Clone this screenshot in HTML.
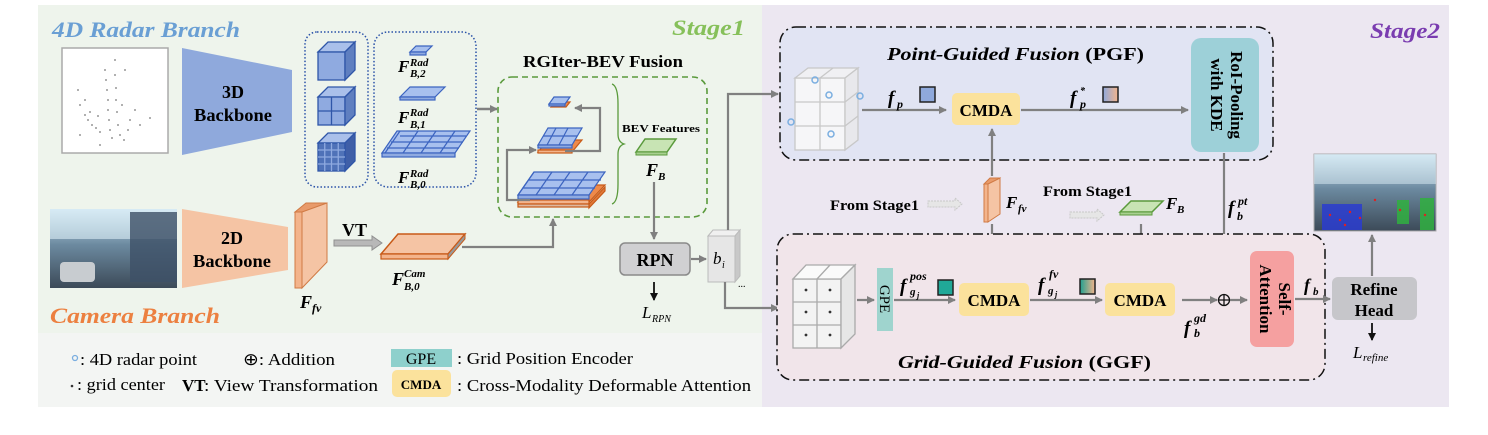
<!DOCTYPE html>
<html><head><meta charset="utf-8"><style>
body{margin:0;background:#fff}
svg{display:block}
text{font-family:"Liberation Serif",serif}
.b{font-weight:bold}
.i{font-style:italic}
</style></head><body>
<svg width="1488" height="435" viewBox="0 0 1488 435" xmlns="http://www.w3.org/2000/svg">
<defs>
<marker id="ar" markerWidth="8" markerHeight="8" refX="7" refY="4" orient="auto" markerUnits="userSpaceOnUse"><path d="M0,0 L8,4 L0,8 z" fill="#808080"/></marker>
<marker id="ak" markerWidth="8" markerHeight="8" refX="7" refY="4" orient="auto" markerUnits="userSpaceOnUse"><path d="M0,0 L8,4 L0,8 z" fill="#111"/></marker>
<linearGradient id="g1" x1="0" x2="1"><stop offset="0" stop-color="#8fa9dc"/><stop offset="1" stop-color="#f3b48c"/></linearGradient>
<linearGradient id="g2" x1="0" x2="1"><stop offset="0" stop-color="#20a090"/><stop offset="1" stop-color="#f3b48c"/></linearGradient>
<linearGradient id="cam" x1="0" y1="0" x2="0" y2="1"><stop offset="0" stop-color="#cfe6f2"/><stop offset="0.45" stop-color="#6c8aa0"/><stop offset="1" stop-color="#3c4a58"/></linearGradient>
</defs>
<rect x="38" y="5" width="724" height="328" fill="#eef4ec"/>
<rect x="38" y="333" width="724" height="74" fill="#f3f5f3"/>
<rect x="762" y="5" width="687" height="402" fill="#ece7f1"/>

<text x="52" y="37" class="b i" font-size="22" fill="#6a9fd4" textLength="188" lengthAdjust="spacingAndGlyphs">4D Radar Branch</text>
<text x="672" y="35" class="b i" font-size="22" fill="#86c05a" textLength="73" lengthAdjust="spacingAndGlyphs">Stage1</text>
<text x="1370" y="38" class="b i" font-size="22" fill="#7a3cb0" textLength="70" lengthAdjust="spacingAndGlyphs">Stage2</text>

<rect x="62" y="48" width="106" height="105" fill="#fff" stroke="#aaa" stroke-width="1.5"/>
<g fill="#777">
<circle cx="78" cy="90" r="0.9"/><circle cx="80" cy="105" r="0.9"/><circle cx="85" cy="115" r="0.9"/><circle cx="88" cy="120" r="0.9"/><circle cx="92" cy="125" r="0.9"/><circle cx="96" cy="128" r="0.9"/><circle cx="100" cy="132" r="0.9"/><circle cx="105" cy="70" r="0.9"/><circle cx="106" cy="80" r="0.9"/><circle cx="107" cy="90" r="0.9"/><circle cx="108" cy="100" r="0.9"/><circle cx="108" cy="110" r="0.9"/><circle cx="109" cy="120" r="0.9"/><circle cx="110" cy="130" r="0.9"/><circle cx="112" cy="138" r="0.9"/><circle cx="115" cy="60" r="0.9"/><circle cx="115" cy="75" r="0.9"/><circle cx="116" cy="88" r="0.9"/><circle cx="116" cy="100" r="0.9"/><circle cx="117" cy="112" r="0.9"/><circle cx="118" cy="125" r="0.9"/><circle cx="120" cy="135" r="0.9"/><circle cx="124" cy="140" r="0.9"/><circle cx="128" cy="130" r="0.9"/><circle cx="130" cy="120" r="0.9"/><circle cx="135" cy="110" r="0.9"/><circle cx="140" cy="125" r="0.9"/><circle cx="150" cy="118" r="0.9"/><circle cx="98" cy="116" r="0.9"/><circle cx="90" cy="112" r="0.9"/><circle cx="125" cy="70" r="0.9"/><circle cx="100" cy="145" r="0.9"/><circle cx="80" cy="135" r="0.9"/><circle cx="122" cy="105" r="0.9"/><circle cx="85" cy="100" r="0.9"/>
</g>
<polygon points="182,48 292,70 292,132 182,155" fill="#8fa9dc"/>
<text x="233" y="98" class="b" font-size="18" text-anchor="middle">3D</text>
<text x="233" y="121" class="b" font-size="18" text-anchor="middle" textLength="78" lengthAdjust="spacingAndGlyphs">Backbone</text>

<rect x="305" y="32" width="63" height="155" rx="12" fill="none" stroke="#2a52a8" stroke-width="1.5" stroke-dasharray="1.5,2"/>
<rect x="374" y="32" width="102" height="155" rx="14" fill="none" stroke="#2a52a8" stroke-width="1.5" stroke-dasharray="1.5,2"/>
<g stroke="#2f56a8" stroke-width="1.3">
<polygon points="318,52 328,42 355,42 345,52" fill="#aac0ea"/><rect x="318" y="52" width="27" height="28" fill="#8faae0"/><polygon points="345,52 355,42 355,70 345,80" fill="#5f7fc0"/>
<polygon points="318,97 328,87 355,87 345,97" fill="#aac0ea"/><rect x="318" y="97" width="27" height="28" fill="#8faae0"/><polygon points="345,97 355,87 355,115 345,125" fill="#5f7fc0"/>
<path d="M331.5,97 v28 M318,111 h27" fill="none"/>
<polygon points="318,143 328,133 355,133 345,143" fill="#aac0ea"/><rect x="318" y="143" width="27" height="28" fill="#4f72b8"/><polygon points="345,143 355,133 355,161 345,171" fill="#3f5fa8"/>
<path d="M324.75,143 v28 M331.5,143 v28 M338.25,143 v28 M318,150 h27 M318,157 h27 M318,164 h27" stroke="#8faae0" fill="none"/>
</g>
<g stroke="#3c64c0" stroke-width="1.2">
<polygon points="410,52 416,46 432,46 426,52" fill="#a8c0ee"/><rect x="410" y="52" width="16" height="3" fill="#8faae0"/>
<polygon points="400,97 410,87 445,87 435,97" fill="#a8c0ee"/><rect x="400" y="97" width="35" height="3" fill="#8faae0"/>
<polygon points="382,153 397,131 470,131 455,153" fill="#a8c0ee"/><rect x="382" y="153" width="73" height="4" fill="#8faae0"/>
<path d="M391,142 h72 M400,136 h66 M387,148 h72 M400,131 l-15,22 M418,131 l-15,22 M436,131 l-15,22 M455,131 l-15,22" fill="none"/>
</g>
<text x="398" y="72" class="b i" font-size="17">F</text><text x="410" y="66" class="b i" font-size="11">Rad</text><text x="410" y="77" class="b i" font-size="11">B,2</text>
<text x="398" y="123" class="b i" font-size="17">F</text><text x="410" y="116" class="b i" font-size="11">Rad</text><text x="410" y="128" class="b i" font-size="11">B,1</text>
<text x="398" y="183" class="b i" font-size="17">F</text><text x="410" y="177" class="b i" font-size="11">Rad</text><text x="410" y="188" class="b i" font-size="11">B,0</text>

<text x="523" y="67" class="b" font-size="17" textLength="160" lengthAdjust="spacingAndGlyphs">RGIter-BEV Fusion</text>
<rect x="498" y="77" width="209" height="140" rx="14" fill="none" stroke="#5a9a3c" stroke-width="1.6" stroke-dasharray="6,4"/>
<line x1="477" y1="109" x2="497" y2="109" stroke="#808080" stroke-width="2.5" marker-end="url(#ar)"/>
<g stroke-width="1.2">
<polygon points="551,107 555,102 570,102 566,107" fill="#ee8a4a" stroke="#c85a18"/>
<polygon points="549,104 554,97 570,97 565,104" fill="#a8c0ee" stroke="#3c64c0"/><rect x="549" y="104" width="16" height="2" fill="#8faae0" stroke="#3c64c0"/>
<polygon points="538,152 548,140 582,140 572,152" fill="#ee8a4a" stroke="#c85a18"/><rect x="538" y="150" width="34" height="3" fill="#f3b48c" stroke="#c85a18"/>
<polygon points="538,145 548,128 582,128 572,145" fill="#a8c0ee" stroke="#3c64c0"/><rect x="538" y="145" width="34" height="3" fill="#8faae0" stroke="#3c64c0"/>
<path d="M543,136 h34 M556,128 l-9,17 M568,128 l-9,17" stroke="#3c64c0" fill="none"/>
<polygon points="518,202 534,185 605,185 589,202" fill="#ee8a4a" stroke="#c85a18"/><rect x="518" y="200" width="71" height="4" fill="#f3b48c" stroke="#c85a18"/><polygon points="589,204 605,187 605,191 589,208" fill="#e07a3a" stroke="#c85a18"/>
<rect x="518" y="204" width="71" height="3" fill="#ddb8a0" stroke="#c85a18"/>
<polygon points="518,195 534,172 605,172 589,195" fill="#a8c0ee" stroke="#3c64c0"/><rect x="518" y="195" width="71" height="4" fill="#8faae0" stroke="#3c64c0"/>
<path d="M523,188 h72 M529,180 h72 M534,172 l-16,23 M552,172 l-16,23 M570,172 l-16,23 M588,172 l-16,23" stroke="#3c64c0" fill="none"/>
</g>
<polyline points="565,151 600,151 600,108 575,108" fill="none" stroke="#808080" stroke-width="2.2" marker-end="url(#ar)"/>
<polyline points="530,200 507,200 507,150 536,150" fill="none" stroke="#808080" stroke-width="2.2" marker-end="url(#ar)"/>
<path d="M612,84 q6,2 6,20 v30 q0,8 6,10 q-6,2 -6,10 v30 q0,18 -6,20" fill="none" stroke="#5a9a3c" stroke-width="1.3"/>
<text x="622" y="132" class="b" font-size="11" textLength="78" lengthAdjust="spacingAndGlyphs">BEV Features</text>
<polygon points="636,152 645,139 676,139 667,152" fill="#c8e4b4" stroke="#5a9a3c" stroke-width="1.5"/><rect x="636" y="152" width="31" height="3" fill="#a8d090" stroke="#5a9a3c"/>
<text x="646" y="176" class="b i" font-size="18">F</text><text x="658" y="180" class="b i" font-size="11">B</text>
<line x1="654" y1="182" x2="654" y2="239" stroke="#808080" stroke-width="2.2" marker-end="url(#ar)"/>

<rect x="50" y="209" width="127" height="79" fill="url(#cam)"/>
<rect x="50" y="209" width="127" height="30" fill="#dceef6" opacity="0.6"/>
<rect x="130" y="212" width="47" height="70" fill="#3d5066" opacity="0.8"/>
<rect x="60" y="262" width="35" height="20" rx="4" fill="#c8ccd0"/>
<polygon points="182,209 288,227 288,270 182,288" fill="#f5c4a4"/>
<text x="232" y="244" class="b" font-size="18" text-anchor="middle">2D</text>
<text x="232" y="267" class="b" font-size="18" text-anchor="middle" textLength="78" lengthAdjust="spacingAndGlyphs">Backbone</text>
<polygon points="295,212 306,203 327,203 306,212" fill="#e89a6a" stroke="#d07a44"/>
<rect x="295" y="212" width="7" height="76" fill="#f3b48c" stroke="#d07a44"/>
<polygon points="302,212 327,203 327,262 302,288" fill="#f5c4a4" stroke="#d07a44"/>
<text x="300" y="308" class="b i" font-size="18">F</text><text x="312" y="312" class="b i" font-size="12">fv</text>
<text x="342" y="236" class="b" font-size="18">VT</text>
<polygon points="334,240 372,240 372,236 382,243 372,250 372,246 334,246" fill="#b8b8b8" stroke="#909090"/>
<polygon points="381,254 398,234 465,234 448,254" fill="#f5c4a4" stroke="#c85a18" stroke-width="1.5"/>
<rect x="381" y="254" width="67" height="5" fill="#f3b48c" stroke="#c85a18" stroke-width="1.2"/>
<polygon points="448,259 465,239 465,234 448,254" fill="#999" stroke="#c85a18"/>
<text x="392" y="285" class="b i" font-size="18">F</text><text x="404" y="277" class="b i" font-size="11">Cam</text><text x="404" y="290" class="b i" font-size="11">B,0</text>
<polyline points="462,247 553,247 553,219" fill="none" stroke="#808080" stroke-width="2.2" marker-end="url(#ar)"/>
<text x="50" y="323" class="b i" font-size="22" fill="#ec8040" textLength="170" lengthAdjust="spacingAndGlyphs">Camera Branch</text>

<rect x="620" y="243" width="70" height="32" rx="5" fill="#d0d0d2" stroke="#8a8a8a" stroke-width="1.5"/>
<text x="655" y="266" class="b" font-size="18" text-anchor="middle">RPN</text>
<line x1="691" y1="259" x2="706" y2="259" stroke="#808080" stroke-width="2.2" marker-end="url(#ar)"/>
<line x1="654" y1="282" x2="654" y2="300" stroke="#111" stroke-width="1.8" marker-end="url(#ak)"/>
<text x="642" y="318" class="i" font-size="17">L</text><text x="652" y="322" class="i" font-size="10">RPN</text>
<polygon points="708,236 713,230 740,230 735,236" fill="#f0f0f0" stroke="#bbb"/>
<rect x="708" y="236" width="27" height="46" fill="#e6e6e6" stroke="#bbb"/>
<polygon points="735,236 740,230 740,276 735,282" fill="#c8c8c8" stroke="#bbb"/>
<text x="713" y="264" class="i" font-size="17">b</text><text x="722" y="268" class="i" font-size="10">i</text>
<text x="738" y="287" font-size="10">...</text>
<polyline points="728,230 728,94 778,94" fill="none" stroke="#808080" stroke-width="2.2" marker-end="url(#ar)"/>
<polyline points="725,282 725,308 778,308" fill="none" stroke="#808080" stroke-width="2.2" marker-end="url(#ar)"/>

<circle cx="75" cy="358" r="2.5" fill="none" stroke="#7aaee0" stroke-width="1.3"/>
<text x="80" y="365" font-size="17" textLength="117" lengthAdjust="spacingAndGlyphs">: 4D radar point</text>
<text x="243" y="365" font-size="17" textLength="92" lengthAdjust="spacingAndGlyphs">⊕: Addition</text>
<circle cx="72" cy="386" r="1.3" fill="#333"/>
<text x="77" y="390" font-size="17" textLength="88" lengthAdjust="spacingAndGlyphs">: grid center</text>
<text x="182" y="391" class="b" font-size="17">VT</text><text x="204" y="391" font-size="17" textLength="174" lengthAdjust="spacingAndGlyphs">: View Transformation</text>
<rect x="391" y="349" width="61" height="18" fill="#8ed0cc"/>
<text x="421" y="364" font-size="16" text-anchor="middle">GPE</text>
<text x="457" y="364" font-size="17" textLength="176" lengthAdjust="spacingAndGlyphs">: Grid Position Encoder</text>
<rect x="392" y="370" width="59" height="27" rx="5" fill="#fbe29c"/>
<text x="421" y="389" class="b" font-size="13" text-anchor="middle">CMDA</text>
<text x="457" y="391" font-size="17" textLength="294" lengthAdjust="spacingAndGlyphs">: Cross-Modality Deformable Attention</text>

<rect x="780" y="27" width="493" height="133" rx="16" fill="#e1e4f3" stroke="#111" stroke-width="1.5" stroke-dasharray="10,4,2,4"/>
<text x="887" y="60" class="b i" font-size="18" textLength="257" lengthAdjust="spacingAndGlyphs">Point-Guided Fusion <tspan font-style="normal">(PGF)</tspan></text>
<g stroke="#c8c8c8" stroke-width="1.3" fill="none">
<rect x="795" y="78" width="50" height="72" fill="#f6f6f8"/>
<polygon points="795,78 808,68 858,68 845,78" fill="#f0f0f3"/>
<polygon points="845,78 858,68 858,140 845,150" fill="#e8e8ec"/>
<path d="M820,78 v72 M795,102 h50 M795,126 h50 M833,68 l-13,10 M858,92 l-13,10 M858,116 l-13,10"/>
</g>
<g fill="none" stroke="#7aaee0" stroke-width="1.5">
<circle cx="815" cy="80" r="3"/><circle cx="829" cy="95" r="3"/><circle cx="860" cy="96" r="3"/><circle cx="791" cy="122" r="3"/><circle cx="831" cy="134" r="3"/>
</g>
<line x1="862" y1="110" x2="946" y2="110" stroke="#808080" stroke-width="2.2" marker-end="url(#ar)"/>
<text x="888" y="104" class="b i" font-size="19">f</text><text x="897" y="108" class="b i" font-size="12">p</text>
<rect x="920" y="87" width="15" height="15" fill="#8fa9dc" stroke="#222" stroke-width="1.5"/>
<rect x="952" y="93" width="68" height="32" rx="5" fill="#fbe29c"/>
<text x="986" y="116" class="b" font-size="17" text-anchor="middle">CMDA</text>
<line x1="1021" y1="110" x2="1188" y2="110" stroke="#808080" stroke-width="2.2" marker-end="url(#ar)"/>
<text x="1070" y="104" class="b i" font-size="19">f</text><text x="1080" y="94" class="b i" font-size="10">*</text><text x="1080" y="108" class="b i" font-size="12">p</text>
<rect x="1103" y="87" width="15" height="15" fill="url(#g1)" stroke="#222" stroke-width="1.5"/>
<rect x="1191" y="38" width="68" height="114" rx="10" fill="#9dd0d8"/>
<text transform="translate(1231,95) rotate(90)" class="b" font-size="17" text-anchor="middle">RoI-Pooling</text>
<text transform="translate(1211,95) rotate(90)" class="b" font-size="17" text-anchor="middle">with KDE</text>

<text x="830" y="210" class="b" font-size="15" textLength="89" lengthAdjust="spacingAndGlyphs">From Stage1</text>
<polygon points="928,201 955,201 955,198 962,204 955,210 955,207 928,207" fill="#e6e6e6" stroke="#c8c8c8" stroke-dasharray="2,1"/>
<polygon points="984,184 990,178 1000,178 994,184" fill="#e89a6a" stroke="#d07a44"/>
<rect x="984" y="184" width="4" height="38" fill="#f3b48c" stroke="#d07a44"/>
<polygon points="988,184 1000,178 1000,214 988,222" fill="#f5c4a4" stroke="#d07a44"/>
<text x="1006" y="208" class="b i" font-size="17">F</text><text x="1018" y="212" class="b i" font-size="11">fv</text>
<line x1="992" y1="176" x2="992" y2="129" stroke="#808080" stroke-width="2.2" marker-end="url(#ar)"/>
<line x1="992" y1="224" x2="992" y2="279" stroke="#808080" stroke-width="2.2" marker-end="url(#ar)"/>
<text x="1043" y="196" class="b" font-size="15" textLength="89" lengthAdjust="spacingAndGlyphs">From Stage1</text>
<polygon points="1070,212 1097,212 1097,209 1104,215 1097,221 1097,218 1070,218" fill="#e6e6e6" stroke="#c8c8c8" stroke-dasharray="2,1"/>
<polygon points="1120,212 1131,201 1163,201 1152,212" fill="#c8e4b4" stroke="#5a9a3c" stroke-width="1.5"/>
<rect x="1120" y="212" width="32" height="3" fill="#a8d090" stroke="#5a9a3c"/>
<text x="1166" y="209" class="b i" font-size="17">F</text><text x="1177" y="213" class="b i" font-size="11">B</text>
<line x1="1141" y1="224" x2="1141" y2="279" stroke="#808080" stroke-width="2.2" marker-end="url(#ar)"/>
<line x1="1224" y1="153" x2="1224" y2="293" stroke="#808080" stroke-width="2.2" marker-end="url(#ar)"/>
<text x="1228" y="214" class="b i" font-size="19">f</text><text x="1238" y="205" class="b i" font-size="12">pt</text><text x="1237" y="220" class="b i" font-size="12">b</text>

<rect x="777" y="234" width="548" height="146" rx="16" fill="#f1e5ea" stroke="#111" stroke-width="1.5" stroke-dasharray="10,4,2,4"/>
<g stroke="#aaa" stroke-width="1.3">
<rect x="793" y="279" width="48" height="69" fill="#f3f3f3"/>
<polygon points="793,279 806,265 855,265 841,279" fill="#fafafa"/>
<polygon points="841,279 855,265 855,334 841,348" fill="#e6e6e6"/>
<path d="M817,279 v69 M793,302 h48 M793,325 h48 M830,265 l-13,14" fill="none"/>
</g>
<g fill="#333"><circle cx="806" cy="290" r="1.4"/><circle cx="830" cy="290" r="1.4"/><circle cx="806" cy="312" r="1.4"/><circle cx="830" cy="312" r="1.4"/><circle cx="806" cy="335" r="1.4"/><circle cx="830" cy="335" r="1.4"/></g>
<line x1="857" y1="300" x2="874" y2="300" stroke="#808080" stroke-width="2.2" marker-end="url(#ar)"/>
<rect x="877" y="268" width="16" height="63" fill="#9fd4ce"/>
<text transform="translate(880,299) rotate(90)" font-size="15" text-anchor="middle">GPE</text>
<line x1="894" y1="300" x2="955" y2="300" stroke="#808080" stroke-width="2.2" marker-end="url(#ar)"/>
<text x="900" y="292" class="b i" font-size="19">f</text><text x="910" y="280" class="b i" font-size="12">pos</text><text x="910" y="295" class="b i" font-size="11">g</text><text x="917" y="298" class="b i" font-size="8">j</text>
<rect x="938" y="280" width="15" height="15" fill="#20a898" stroke="#222" stroke-width="1.5"/>
<rect x="959" y="283" width="70" height="33" rx="5" fill="#fbe29c"/>
<text x="994" y="306" class="b" font-size="17" text-anchor="middle">CMDA</text>
<line x1="1030" y1="300" x2="1102" y2="300" stroke="#808080" stroke-width="2.2" marker-end="url(#ar)"/>
<text x="1038" y="291" class="b i" font-size="19">f</text><text x="1049" y="278" class="b i" font-size="12">fv</text><text x="1048" y="294" class="b i" font-size="11">g</text><text x="1055" y="297" class="b i" font-size="8">j</text>
<rect x="1080" y="279" width="15" height="15" fill="url(#g2)" stroke="#222" stroke-width="1.5"/>
<rect x="1105" y="283" width="70" height="33" rx="5" fill="#fbe29c"/>
<text x="1140" y="306" class="b" font-size="17" text-anchor="middle">CMDA</text>
<line x1="1182" y1="300" x2="1217" y2="300" stroke="#808080" stroke-width="2.2" marker-end="url(#ar)"/>
<circle cx="1224" cy="300" r="5.5" fill="none" stroke="#111" stroke-width="1.3"/>
<path d="M1218.5,300 h11 M1224,294.5 v11" stroke="#111" stroke-width="1.3"/>
<text x="1184" y="334" class="b i" font-size="19">f</text><text x="1194" y="322" class="b i" font-size="12">gd</text><text x="1194" y="337" class="b i" font-size="12">b</text>
<line x1="1230" y1="300" x2="1247" y2="300" stroke="#808080" stroke-width="2.2" marker-end="url(#ar)"/>
<rect x="1250" y="251" width="44" height="96" rx="7" fill="#f5a0a0"/>
<text transform="translate(1279,299) rotate(90)" class="b" font-size="17" text-anchor="middle">Self-</text>
<text transform="translate(1260,299) rotate(90)" class="b" font-size="17" text-anchor="middle">Attention</text>
<line x1="1295" y1="299" x2="1330" y2="299" stroke="#808080" stroke-width="2.2" marker-end="url(#ar)"/>
<text x="1304" y="291" class="b i" font-size="18">f</text><text x="1313" y="295" class="b i" font-size="11">b</text>
<text x="898" y="368" class="b i" font-size="18" textLength="253" lengthAdjust="spacingAndGlyphs">Grid-Guided Fusion <tspan font-style="normal">(GGF)</tspan></text>

<rect x="1332" y="277" width="85" height="43" rx="6" fill="#c6c6ca"/>
<text x="1374" y="295" class="b" font-size="17" text-anchor="middle">Refine</text>
<text x="1374" y="316" class="b" font-size="17" text-anchor="middle">Head</text>
<line x1="1372" y1="276" x2="1372" y2="235" stroke="#808080" stroke-width="2.2" marker-end="url(#ar)"/>
<line x1="1372" y1="323" x2="1372" y2="340" stroke="#111" stroke-width="1.8" marker-end="url(#ak)"/>
<text x="1353" y="358" class="i" font-size="17">L</text><text x="1363" y="361" class="i" font-size="11">refine</text>
<rect x="1314" y="154" width="122" height="77" fill="url(#cam)" stroke="#aaa"/>
<rect x="1314" y="154" width="122" height="30" fill="#dceef6" opacity="0.5"/>
<rect x="1322" y="204" width="40" height="26" fill="#2a3cd0" opacity="0.85"/>
<rect x="1397" y="200" width="12" height="24" fill="#30b040" opacity="0.85"/>
<rect x="1420" y="198" width="14" height="32" fill="#30b040" opacity="0.85"/>
<g fill="#e02020"><circle cx="1330" cy="215" r="1.2"/><circle cx="1340" cy="220" r="1.2"/><circle cx="1350" cy="212" r="1.2"/><circle cx="1345" cy="225" r="1.2"/><circle cx="1360" cy="218" r="1.2"/><circle cx="1400" cy="210" r="1.2"/><circle cx="1425" cy="215" r="1.2"/><circle cx="1375" cy="200" r="1.2"/></g>
</svg>
</body></html>
